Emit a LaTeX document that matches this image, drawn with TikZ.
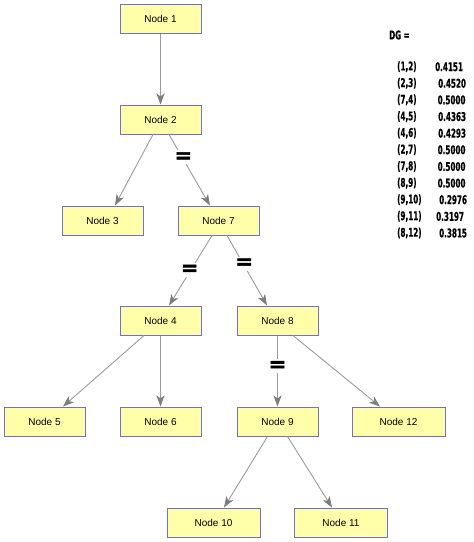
\documentclass[tikz,border=0pt]{standalone}
\usepackage{fontspec}
\setmainfont{Liberation Sans}
\newfontfamily\tablefont[FakeStretch=0.6,FakeBold=0.6]{DejaVu Sans}
\newfontfamily\eqfont[FakeBold=2.5]{DejaVu Sans}
\usetikzlibrary{arrows.meta}
\definecolor{boxfill}{RGB}{255,255,170}
\definecolor{boxline}{RGB}{112,112,200}
\definecolor{edgeline}{RGB}{155,155,155}
\definecolor{headfill}{RGB}{125,125,125}
\begin{document}
\begin{tikzpicture}[x=1pt,y=-1pt,
  nodebox/.style={draw=boxline, fill=boxfill, line width=1pt, minimum width=81pt,
    minimum height=29pt, inner sep=0pt, font=\fontsize{10}{12}\selectfont},
  widebox/.style={nodebox, minimum width=93pt},
  edge/.style={draw=edgeline, line width=0.9pt,
    -{Stealth[length=11pt,width=8pt,inset=3pt,color=headfill]}},
  eqlabel/.style={fill=white, inner sep=2pt, font=\eqfont\bfseries\fontsize{21}{21}\selectfont},
  dgtext/.style={anchor=west, inner sep=0pt, font=\tablefont\bfseries\fontsize{12}{14}\selectfont}
]
\fill[white] (0,0) rectangle (474,542);
\useasboundingbox (0,0) rectangle (474,542);

% nodes
\node[nodebox] (n1) at (160.5,18.5) {Node 1};
\node[nodebox] (n2) at (160.5,119.5) {Node 2};
\node[nodebox] (n3) at (102.5,220.5) {Node 3};
\node[nodebox] (n7) at (218.5,220.5) {Node 7};
\node[nodebox] (n4) at (160.5,320.5) {Node 4};
\node[nodebox] (n8) at (277.5,320.5) {Node 8};
\node[nodebox] (n5) at (44.5,421.5) {Node 5};
\node[nodebox] (n6) at (160.5,421.5) {Node 6};
\node[nodebox] (n9) at (277.5,421.5) {Node 9};
\node[widebox] (n12) at (398.5,421.5) {Node 12};
\node[widebox] (n10) at (213.5,522.5) {Node 10};
\node[widebox] (n11) at (341,522.5) {Node 11};

% edges
\draw[edge] (n1.south) -- (n2.north);
\draw[edge] ([xshift=-7.5pt]n2.south) -- ([xshift=12.5pt]n3.north);
\draw[edge] ([xshift=8.5pt]n2.south) -- node[eqlabel,pos=0.35,yshift=2pt]{=} ([xshift=-8.5pt]n7.north);
\draw[edge] ([xshift=-6.5pt]n7.south) -- node[eqlabel,pos=0.52,yshift=2pt]{=} ([xshift=8.5pt]n4.north);
\draw[edge] ([xshift=8.5pt]n7.south) -- node[eqlabel,pos=0.43,yshift=2pt]{=} ([xshift=-10.5pt]n8.north);
\draw[edge] ([xshift=-16.5pt]n4.south) -- ([xshift=18.5pt]n5.north);
\draw[edge] (n4.south) -- (n6.north);
\draw[edge] (n8.south) -- node[eqlabel,pos=0.46,yshift=2pt]{=} (n9.north);
\draw[edge] ([xshift=15.5pt]n8.south) -- ([xshift=-18.5pt]n12.north);
\draw[edge] ([xshift=-10pt]n9.south) -- ([xshift=10.5pt]n10.north);
\draw[edge] ([xshift=10pt]n9.south) -- ([xshift=-9pt]n11.north);

% DG table
\node[dgtext] (dg) at (389,35) {DG =};
\node[dgtext] (k1) at (397,66.7) {(1,2)};
\node[dgtext] (k2) at (397,83.3) {(2,3)};
\node[dgtext] (k3) at (397,99.9) {(7,4)};
\node[dgtext] (k4) at (397,116.6) {(4,5)};
\node[dgtext] (k5) at (397,133.2) {(4,6)};
\node[dgtext] (k6) at (397,149.8) {(2,7)};
\node[dgtext] (k7) at (397,166.5) {(7,8)};
\node[dgtext] (k8) at (397,183.1) {(8,9)};
\node[dgtext] (k9) at (397,199.7) {(9,10)};
\node[dgtext] (k10) at (397,216.4) {(9,11)};
\node[dgtext] (k11) at (397,233) {(8,12)};
\node[dgtext] (v1) at (435,66.7) {0.4151};
\node[dgtext] (v2) at (438,83.3) {0.4520};
\node[dgtext] (v3) at (437.5,99.9) {0.5000};
\node[dgtext] (v4) at (438,116.6) {0.4363};
\node[dgtext] (v5) at (438,133.2) {0.4293};
\node[dgtext] (v6) at (437.5,149.8) {0.5000};
\node[dgtext] (v7) at (437.5,166.5) {0.5000};
\node[dgtext] (v8) at (437.5,183.1) {0.5000};
\node[dgtext] (v9) at (439,199.7) {0.2976};
\node[dgtext] (v10) at (436,216.4) {0.3197};
\node[dgtext] (v11) at (439,233) {0.3815};
\end{tikzpicture}
\end{document}
